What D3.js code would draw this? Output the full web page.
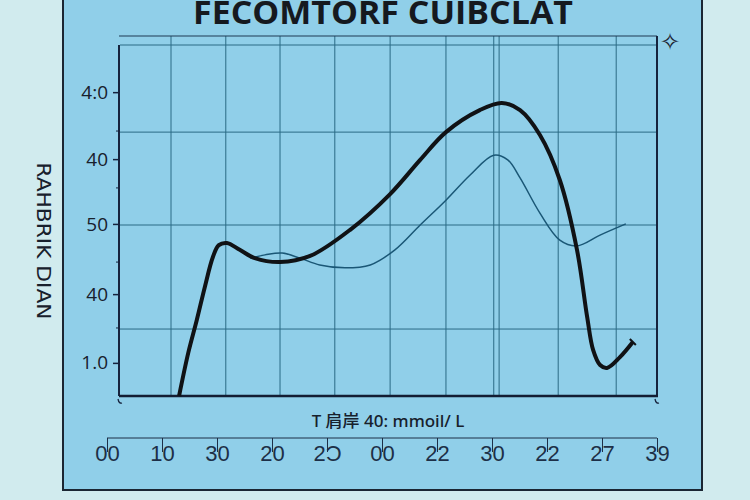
<!DOCTYPE html>
<html>
<head>
<meta charset="utf-8">
<script src="https://cdn.jsdelivr.net/npm/d3@7"></script>
<style>
  html, body { margin: 0; padding: 0; background: #d1ebee; }
  svg { display: block; }
</style>
</head>
<body>
<svg id="chart" width="750" height="500"></svg>
<script>

const titleText = "FECOMTORF CUIBCLAT";
const yTitle = "RAHBRIK DIAN";
const xTitle = "T 肩岸 40: mmoil/ L";

// y tick labels (garbled in source) and their values
const yTickValues = [84.4, 65.8, 47.8, 28.3, 9.2];
const yTickLabels = ["4:0", "40", "50", "40", "1.0"];
const yMinorTicks = [73.6, 57.8, 37.2, 18.9];
const yGrid = [97.5, 73.3, 47.5, 18.6];

const xGrid = [0.95, 1.97, 2.98, 4.0, 5.03, 6.07, 6.96, 7.06, 8.16, 9.24];

// lower category axis
const bottomLabels = ["00", "10", "30", "20", "2Ɔ", "00", "22", "30", "22", "27", "39"];

// thick series
const mainX = [1.10, 1.27, 1.43, 1.58, 1.73, 1.84, 1.99, 2.23, 2.51, 2.98, 3.54, 4.28, 5.03, 5.59, 6.07, 6.70, 7.11, 7.45, 7.82, 8.19, 8.51, 8.70, 8.81, 8.94, 9.07, 9.31, 9.55];
const mainY = [0, 11.9, 21.1, 30.3, 38.6, 41.9, 42.5, 40.6, 38.3, 37.2, 38.9, 46.1, 56.1, 65.6, 73.3, 79.4, 81.4, 79.4, 72.5, 60, 40.6, 21.9, 12.8, 8.6, 7.8, 10.8, 15];

// thin series
const thinX = [2.42, 2.70, 3.02, 3.35, 3.72, 4.19, 4.66, 5.12, 5.59, 6.07, 6.52, 6.96, 7.22, 7.45, 7.82, 8.19, 8.51, 8.94, 9.42];
const thinY = [38.3, 39.2, 39.7, 38.3, 36.4, 35.6, 36.4, 40.6, 47.5, 54.4, 61.4, 66.9, 65.6, 60.6, 50.8, 43.3, 41.7, 44.7, 47.8];

const svg =
  d3.select("#chart");

const plotLeft = 120, plotRight = 657, plotTop = 36, plotBottom = 396;

const x =
  d3.scaleLinear()
    .domain([0, 10])
    .range([plotLeft, plotRight]);

const y =
  d3.scaleLinear()
    .domain([0, 100])
    .range([plotBottom, plotTop]);

const xb =
  d3.scalePoint()
    .domain(d3.range(bottomLabels.length))
    .range([107, 657]);

// panel
svg.append("rect")
  .attr("x", 63)
  .attr("y", -5)
  .attr("width", 639)
  .attr("height", 495)
  .attr("fill", "#90cfe9")
  .attr("stroke", "#1b2633")
  .attr("stroke-width", 2);

// title
svg.append("text")
  .attr("x", 383)
  .attr("y", 24)
  .attr("text-anchor", "middle")
  .attr("font-family", "Open Sans, sans-serif")
  .attr("font-weight", 700)
  .attr("font-size", 32)
  .attr("textLength", 380)
  .attr("lengthAdjust", "spacingAndGlyphs")
  .attr("fill", "#15191f")
  .text(titleText);

// grid
const grid = svg.append("g")
  .attr("stroke", "#2a6a85")
  .attr("stroke-width", 1);

grid.selectAll(".gx")
  .data(xGrid)
  .enter()
  .append("line")
  .attr("x1", d => x(d))
  .attr("x2", d => x(d))
  .attr("y1", y(100))
  .attr("y2", y(0));

grid.selectAll(".gy")
  .data(yGrid)
  .enter()
  .append("line")
  .attr("x1", x(0))
  .attr("x2", x(10))
  .attr("y1", d => y(d))
  .attr("y2", d => y(d));

// frame
svg.append("line")
  .attr("x1", x(0) - 1).attr("x2", x(10))
  .attr("y1", y(100)).attr("y2", y(100))
  .attr("stroke", "#1e3a55").attr("stroke-width", 1.2);

svg.append("line")
  .attr("x1", x(10)).attr("x2", x(10))
  .attr("y1", y(100)).attr("y2", y(0))
  .attr("stroke", "#16233d").attr("stroke-width", 2);

// left axis
const yAxis =
  d3.axisLeft(y)
    .tickValues(yTickValues)
    .tickFormat((d, i) => yTickLabels[i])
    .tickSize(6)
    .tickPadding(5);

const ya = svg.append("g")
  .attr("transform", `translate(${x(0) - 1},0)`)
  .call(yAxis);

ya.select(".domain")
  .attr("d", `M0,${y(97.5)}V${y(0)}`)
  .attr("stroke", "#16233d")
  .attr("stroke-width", 2);

ya.selectAll(".tick line")
  .attr("stroke", "#16233d")
  .attr("stroke-width", 1.5);

ya.selectAll(".tick text")
  .attr("font-family", "Open Sans, sans-serif")
  .attr("font-weight", 500)
  .attr("font-size", 19)
  .attr("fill", "#18202c");

ya.selectAll(".minor")
  .data(yMinorTicks)
  .enter()
  .append("line")
  .attr("x1", -3).attr("x2", 0)
  .attr("y1", d => y(d)).attr("y2", d => y(d))
  .attr("stroke", "#16233d");

// bottom axis
svg.append("line")
  .attr("x1", x(0) - 1).attr("x2", x(10) + 1)
  .attr("y1", y(0)).attr("y2", y(0))
  .attr("stroke", "#131d33").attr("stroke-width", 2.5);

svg.selectAll(".hook")
  .data([0, 10])
  .enter()
  .append("path")
  .attr("d", d => `M${x(d) - 2},${y(0) + 3}q1,5 4,4`)
  .attr("fill", "none")
  .attr("stroke", "#16233d")
  .attr("stroke-width", 1.3);

// series
const line =
  d3.line()
    .x(d => x(d[0]))
    .y(d => y(d[1]))
    .curve(d3.curveCatmullRom);

svg.append("path")
  .datum(thinX.map((v, i) => [v, thinY[i]]))
  .attr("d", line)
  .attr("fill", "none")
  .attr("stroke", "#1a5776")
  .attr("stroke-width", 1.5);

svg.append("path")
  .datum(mainX.map((v, i) => [v, mainY[i]]))
  .attr("d", line)
  .attr("fill", "none")
  .attr("stroke", "#101215")
  .attr("stroke-width", 4)
  .attr("stroke-linecap", "butt");

// end tick on thick line
const last = mainX.length - 1;
svg.append("line")
  .attr("x1", x(mainX[last]) - 3).attr("y1", y(mainY[last]) - 3)
  .attr("x2", x(mainX[last]) + 3).attr("y2", y(mainY[last]) + 3)
  .attr("stroke", "#101215").attr("stroke-width", 2);

// x title
svg.append("text")
  .attr("x", 388)
  .attr("y", 427)
  .attr("text-anchor", "middle")
  .attr("font-family", "Noto Sans, Noto Sans CJK SC, sans-serif")
  .attr("font-size", 17)
  .attr("font-weight", 500)
  .attr("fill", "#17202c")
  .text(xTitle);

// lower axis
const bAxis =
  d3.axisBottom(xb)
    .tickFormat(i => bottomLabels[i])
    .tickSize(14)
    .tickPadding(-8);

const ba = svg.append("g")
  .attr("transform", "translate(0,438)")
  .call(bAxis);

ba.select(".domain")
  .attr("d", `M${xb(0)},0H${xb(10)}`)
  .attr("stroke", "#1d2f47")
  .attr("stroke-width", 1);

ba.selectAll(".tick line")
  .attr("stroke", "#1d2f47");

ba.selectAll(".tick text")
  .attr("font-family", "Liberation Sans Narrow, sans-serif")
  .attr("font-size", 22)
  .attr("fill", "#1d2f47")
  .attr("dy", "0.71em")
  .attr("y", 7);

// y title
svg.append("text")
  .attr("transform", "translate(37,241) rotate(90)")
  .attr("text-anchor", "middle")
  .attr("font-family", "DejaVu Sans, sans-serif")
  .attr("font-size", 19)
  .attr("textLength", 157)
  .attr("lengthAdjust", "spacingAndGlyphs")
  .attr("fill", "#18202c")
  .text(yTitle);

// corner glyph
svg.append("text")
  .attr("x", 670)
  .attr("y", 50)
  .attr("text-anchor", "middle")
  .attr("font-family", "DejaVu Sans, sans-serif")
  .attr("font-size", 24)
  .attr("fill", "#1a2230")
  .text("✧");

</script>
</body>
</html>
